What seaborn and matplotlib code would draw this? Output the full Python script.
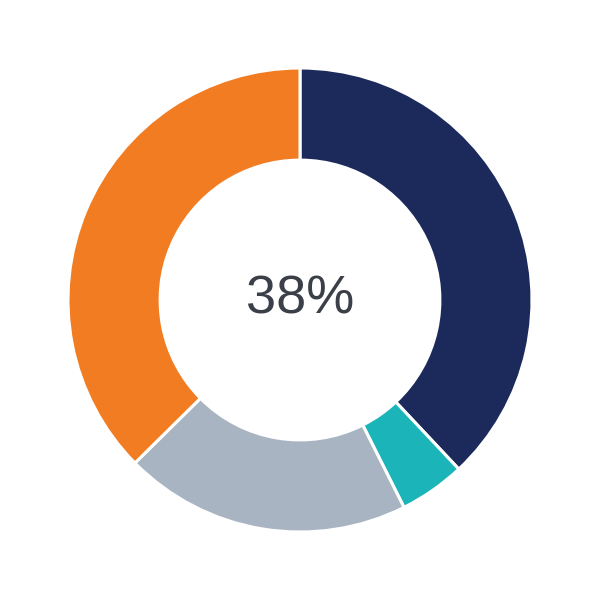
import matplotlib
matplotlib.use("Agg")
import matplotlib.pyplot as plt
import seaborn as sns

# Segment shares, clockwise from 12 o'clock
labels = ["Navy", "Teal", "Gray", "Orange"]
shares = [38, 4.6, 20, 37.4]
colors = ["#1b2a5b", "#1bb5b9", "#a9b4c2", "#f27c21"]
center_label = "38%"

sns.set_theme(style="white")
plt.rcParams["font.family"] = ["Liberation Sans", "DejaVu Sans"]

fig = plt.figure(figsize=(6, 6), dpi=100)
ax = fig.add_axes([0, 0, 1, 1])

ax.pie(
    shares,
    colors=colors,
    startangle=90,
    counterclock=False,
    radius=1.0,
    wedgeprops={"width": 0.397, "edgecolor": "white", "linewidth": 2.2},
)
ax.text(0, 0, center_label, ha="center", va="center", fontsize=39, color="#3a3f48")

lim = 300 / 232
ax.set_xlim(-lim, lim)
ax.set_ylim(-lim, lim)
ax.set_aspect("equal")
ax.axis("off")

fig.savefig("out.png", dpi=100, facecolor="white")
